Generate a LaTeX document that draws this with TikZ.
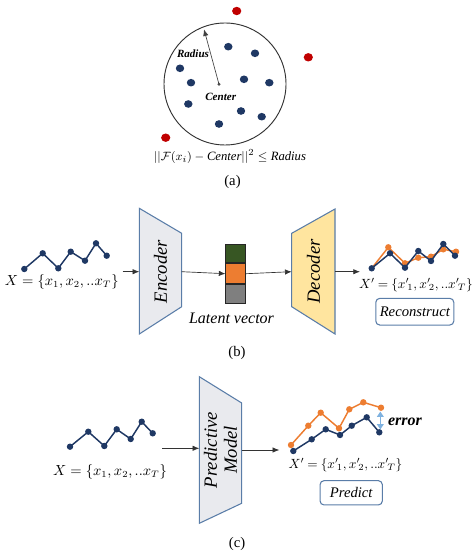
\documentclass[tikz,border=0pt]{standalone}
\usepackage{fontspec}
\setmainfont{Liberation Serif}
\usetikzlibrary{arrows.meta,calc}
\definecolor{navy}{HTML}{1F3864}
\definecolor{dotred}{HTML}{C00000}
\definecolor{orng}{HTML}{ED7D31}
\definecolor{lgreen}{HTML}{375623}
\definecolor{lgray}{HTML}{7F7F7F}
\definecolor{trapline}{HTML}{5A7DA8}
\definecolor{encfill}{HTML}{E9EAEE}
\definecolor{decfill}{HTML}{FFE59F}
\definecolor{errblue}{HTML}{7FB2E0}
\newcommand{\xprimeset}{$\thickmuskip=4mu\relax X'=\{{x'}_{\!1},{x'}_{\!2},..{x'}_{\!T}\}$}
\tikzset{
  conn/.style={-{Latex[length=5pt,width=4pt]}, line width=0.5pt, black!80},
  trap/.style={draw=trapline, line width=0.8pt},
  bluedot/.style={fill=navy, draw=none},
  reddot/.style={fill=dotred, draw=none},
  ser/.style={line width=1.1pt},
  lbl/.style={inner sep=0pt, font=\fontsize{10.5}{12}\selectfont},
  lblp/.style={inner sep=0pt, font=\fontsize{9.8}{12}\selectfont},
  capt/.style={inner sep=0pt, font=\fontsize{11}{13}\selectfont},
  taskbox/.style={draw=trapline, line width=0.8pt, rounded corners=3pt, fill=white},
}
\begin{document}
\begin{tikzpicture}[x=0.75pt,y=-0.75pt]
\useasboundingbox (0,0) rectangle (474,559);
% ---------- (a)
\node[circle, draw=black!80, line width=0.7pt, minimum size=122*0.75pt, inner sep=0pt] (circ) at (225,84) {};
\coordinate (ctr) at (219,84.3);
\fill[black!70] (ctr) circle (1.6);
\coordinate (rad) at (204,29.3);
\draw[-{Latex[length=5pt,width=4pt]}, line width=0.5pt, black!75] (ctr) -- (rad);
\node[inner sep=0pt, font=\fontsize{8.3}{10}\selectfont\bfseries\itshape] (radlbl) at (193,53.3) {Radius};
\node[inner sep=0pt, font=\fontsize{8.3}{10}\selectfont\bfseries\itshape] (ctrlbl) at (220.7,96.7) {Center};
\foreach \p in {(228.3,46.7),(255,53.3),(180,68.3),(191,82.7),(244,79.3),(269.3,82.7),(188.3,104),(241,111),(261.7,116.7),(219,124)}
  \fill[bluedot] \p ellipse (4.2 and 3.8);
\foreach \p in {(236.7,11),(308.3,57.3),(165.7,137.7)}
  \fill[reddot] \p ellipse (4.6 and 4.2);
\node[inner sep=0pt, font=\fontsize{9.5}{12}\selectfont] (fa) at (230,156.7) {$||\mathcal{F}(x_i)-\mathit{Center}||^2\leq \mathit{Radius}$};
\node[capt] (ca) at (232.5,181.5) {(a)};
% ---------- (b)
\draw[navy, ser] (24.3,269) -- (42.7,253.3) -- (58.3,268.3) -- (70.7,251.7) -- (85,260.7) -- (96,243.3) -- (106.7,255.7);
\foreach \p in {(24.3,269),(42.7,253.3),(58.3,268.3),(70.7,251.7),(85,260.7),(96,243.3),(106.7,255.7)}
  \fill[navy] \p circle (3.2);
\node[lbl] (xb) at (61.7,282) {$X=\{x_1,x_2,..x_T\}$};
\coordinate (xbout) at (122.7,271.7);
% encoder
\draw[trap, fill=encfill] (139.3,208.3) -- (181.7,233.3) -- (181.7,306.7) -- (139.3,334) -- cycle;
\coordinate (encL) at (139.3,271.7);
\coordinate (encR) at (181.7,271.7);
\node[rotate=90, inner sep=0pt, font=\fontsize{14}{16}\selectfont\itshape] (enc) at (160.5,271.5) {Encoder};
% latent
\node[draw=black!85, line width=0.7pt, fill=lgreen, minimum width=19.7*0.75pt, minimum height=18.3*0.75pt, inner sep=0pt, anchor=north] (lat1) at (235.8,244) {};
\node[draw=black!85, line width=0.7pt, fill=orng, minimum width=19.7*0.75pt, minimum height=20*0.75pt, inner sep=0pt, anchor=north] (lat2) at (lat1.south) {};
\node[draw=black!85, line width=0.7pt, fill=lgray, minimum width=19.7*0.75pt, minimum height=18.7*0.75pt, inner sep=0pt, anchor=north] (lat3) at (lat2.south) {};
\node[inner sep=0pt, font=\fontsize{12}{14}\selectfont\itshape] (latlbl) at (231.5,318.5) {Latent vector};
% decoder
\draw[trap, fill=decfill] (291.7,233.3) -- (335,209) -- (335,334) -- (291.7,306.7) -- cycle;
\coordinate (decL) at (291.7,271.7);
\coordinate (decR) at (335,271.7);
\node[rotate=90, inner sep=0pt, font=\fontsize{14}{16}\selectfont\itshape] (dec) at (313.5,271.5) {Decoder};
\coordinate (xrin) at (360,271.7);
\draw[conn] (xbout) -- (encL);
\draw[conn] (encR) -- (lat2.west);
\draw[conn] (lat2.east) -- (decL);
\draw[conn] (decR) -- (xrin);
% reconstructed series
\draw[orng, ser] (371.7,268.3) -- (388.3,247.3) -- (405,263.3) -- (418.3,257.7) -- (431,256.7) -- (443.3,249.3) -- (456,251.7);
\foreach \p in {(388.3,247.3),(405,263.3),(418.3,257.7),(431,256.7),(443.3,249.3),(456,251.7)}
  \fill[orng] \p circle (3.2);
\draw[navy, ser] (371.7,268.3) -- (390,253.3) -- (405,267.7) -- (418.3,251) -- (431,261) -- (443.3,244) -- (455,255.7);
\foreach \p in {(371.7,268.3),(390,253.3),(405,267.7),(418.3,251),(431,261),(443.3,244),(455,255.7)}
  \fill[navy] \p circle (3.2);
\node[lblp] (xr) at (416,285) {\xprimeset};
\node[taskbox, minimum width=78*0.75pt, minimum height=26.7*0.75pt, inner sep=0pt, font=\fontsize{11}{13}\selectfont\itshape] (recon) at (414.8,311.7) {Reconstruct};
\node[capt] (cb) at (237,353) {(b)};
% ---------- (c)
\draw[navy, ser] (70,446.7) -- (88.3,431.7) -- (104.3,446) -- (116.7,429.3) -- (130.7,439) -- (141.7,421.7) -- (152.7,433.3);
\foreach \p in {(70,446.7),(88.3,431.7),(104.3,446),(116.7,429.3),(130.7,439),(141.7,421.7),(152.7,433.3)}
  \fill[navy] \p circle (3.2);
\node[lbl] (xc) at (110,471.7) {$X=\{x_1,x_2,..x_T\}$};
\coordinate (xcout) at (162.3,448.3);
\draw[trap, fill=encfill] (199.3,376.7) -- (241.7,403) -- (241.7,503.3) -- (199.3,523.3) -- cycle;
\coordinate (pmL) at (199.3,448.3);
\coordinate (pmR) at (241.7,450);
\node[rotate=90, inner sep=0pt, align=center, font=\fontsize{14}{15}\selectfont\itshape] (pm) at (220.5,450) {Predictive\\Model};
\coordinate (xpin) at (279.3,450);
\draw[conn] (xcout) -- (pmL);
\draw[conn] (pmR) -- (xpin);
\draw[orng, ser] (291,445) -- (308.3,425.7) -- (320.7,412.7) -- (339,428.3) -- (349.3,409.3) -- (363.3,402.3) -- (381,407.7);
\foreach \p in {(291,445),(308.3,425.7),(320.7,412.7),(339,428.3),(349.3,409.3),(363.3,402.3),(381,407.7)}
  \fill[orng] \p circle (3.2);
\draw[navy, ser] (293.3,451) -- (311.7,439.3) -- (325.7,429.3) -- (340,435) -- (351.7,425.7) -- (366.7,417.3) -- (379.3,432.3);
\foreach \p in {(293.3,451),(311.7,439.3),(325.7,429.3),(340,435),(351.7,425.7),(366.7,417.3),(379.3,432.3)}
  \fill[navy] \p circle (3.2);
\coordinate (errtop) at (380.3,411.5);
\coordinate (errbot) at (380.3,429.5);
\draw[{Triangle[length=4pt,width=5pt]}-{Triangle[length=4pt,width=5pt]}, errblue, line width=1.2pt] (errtop) -- (errbot);
\node[inner sep=0pt, font=\fontsize{12}{14}\selectfont\bfseries\itshape] (err) at (405,421.7) {error};
\node[lblp] (xp) at (345.5,465) {\xprimeset};
\node[taskbox, minimum width=62.3*0.75pt, minimum height=24.3*0.75pt, inner sep=0pt, font=\fontsize{11}{13}\selectfont\itshape] (pred) at (351.2,492.8) {Predict};
\node[capt] (cc) at (237,543.5) {(c)};
\end{tikzpicture}
\end{document}
